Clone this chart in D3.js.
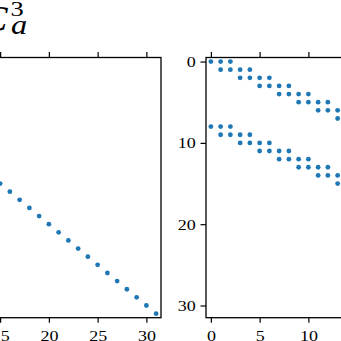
<!DOCTYPE html>
<html>
<head>
<meta charset="utf-8">
<script src="https://cdn.jsdelivr.net/npm/d3@7"></script>
<style>
  html, body { margin: 0; padding: 0; background: #fff; }
  svg { display: block; }
  .tick line { stroke: #000; stroke-width: 1.2; }
  .frame { fill: none; stroke: #000; stroke-width: 1.3; }
</style>
</head>
<body>
<svg id="chart" width="341" height="341"></svg>
<script>
// matrix size (rows/cols 0..31)
const n = 32;
const xTicks = [0, 5, 10, 15, 20, 25, 30];
const yTicks = [0, 10, 20, 30];

// left panel: diagonal entries (row, col)
const diagRows = [0, 1, 2, 3, 4, 5, 6, 7, 8, 9, 10, 11, 12, 13, 14, 15,
  16, 17, 18, 19, 20, 21, 22, 23, 24, 25, 26, 27, 28, 29, 30, 31];
const diagCols = [0, 1, 2, 3, 4, 5, 6, 7, 8, 9, 10, 11, 12, 13, 14, 15,
  16, 17, 18, 19, 20, 21, 22, 23, 24, 25, 26, 27, 28, 29, 30, 31];

// right panel: non-zero entries per row
const bandRows = [0, 1, 2, 3, 4, 5, 6, 7, 8, 9, 10, 11, 12, 13, 14, 15];
const bandCols = [
  [0, 1, 2],
  [1, 2, 3, 4],
  [3, 4, 5, 6],
  [5, 6, 7, 8],
  [7, 8, 9, 10],
  [9, 10, 11, 12],
  [11, 12, 13, 14],
  [13, 14, 15, 16],
  [0, 1, 2],
  [1, 2, 3, 4],
  [3, 4, 5, 6],
  [5, 6, 7, 8],
  [7, 8, 9, 10],
  [9, 10, 11, 12],
  [11, 12, 13, 14],
  [13, 14, 15, 16]
];

const svg = d3.select('#chart');
const dotColor = '#1f77b4';
const serif = '"Liberation Serif", serif';
const sx = 'scale(1.2,1)';

const plotTop = 57.5, plotBottom = 317.7;
const y = d3.scaleLinear().domain([-0.5, n - 0.5]).range([plotTop, plotBottom]);

function panel(x0, x1, points) {
  const x = d3.scaleLinear().domain([-0.5, n - 0.5]).range([x0, x1]);
  const g = svg.append('g');

  g.selectAll('circle').data(points).enter().append('circle')
    .attr('cx', d => x(d.c))
    .attr('cy', d => y(d.r))
    .attr('r', 2.4)
    .attr('fill', dotColor);

  const gb = g.append('g').attr('transform', `translate(0,${plotBottom})`)
    .call(d3.axisBottom(x).tickValues(xTicks).tickSize(5).tickPadding(8).tickSizeOuter(0));
  const gt = g.append('g').attr('transform', `translate(0,${plotTop})`)
    .call(d3.axisTop(x).tickValues(xTicks).tickSize(5.5).tickFormat('').tickSizeOuter(0));
  const gl = g.append('g').attr('transform', `translate(${x0},0)`)
    .call(d3.axisLeft(y).tickValues(yTicks).tickSize(5.5).tickPadding(0).tickSizeOuter(0));
  [gb, gt, gl].forEach(a => {
    a.select('.domain').remove();
    a.attr('font-family', null).attr('font-size', null);
    a.selectAll('.tick text')
      .style('font-family', serif).style('font-size', '15px').style('fill', '#000')
      .attr('transform', sx);
  });
  gl.selectAll('.tick text').attr('x', -8.6);

  g.append('rect').attr('class', 'frame')
    .attr('x', x0).attr('y', plotTop)
    .attr('width', x1 - x0).attr('height', plotBottom - plotTop);
}

const diagPts = diagRows.map((r, i) => ({ r, c: diagCols[i] }));
const bandPts = [];
bandRows.forEach((r, i) => bandCols[i].forEach(c => bandPts.push({ r, c })));

panel(161 - 312, 161, diagPts);
panel(206, 206 + 312, bandPts);

// title  C_a^3 (cut at the left edge)
const title = [
  { t: 'C', x: 7.5, y: 31, size: 36, italic: true, anchor: 'end' },
  { t: '3', x: 10.5, y: 15.5, size: 22, italic: false, anchor: 'start' },
  { t: 'a', x: 11, y: 34, size: 27, italic: true, anchor: 'start' }
];
svg.selectAll('text.title').data(title).enter().append('text')
  .attr('class', 'title')
  .attr('transform', d => `translate(${d.x},${d.y}) ${sx}`)
  .attr('text-anchor', d => d.anchor)
  .style('font-family', serif)
  .style('font-style', d => d.italic ? 'italic' : 'normal')
  .style('font-size', d => d.size + 'px')
  .text(d => d.t);
</script>
</body>
</html>
